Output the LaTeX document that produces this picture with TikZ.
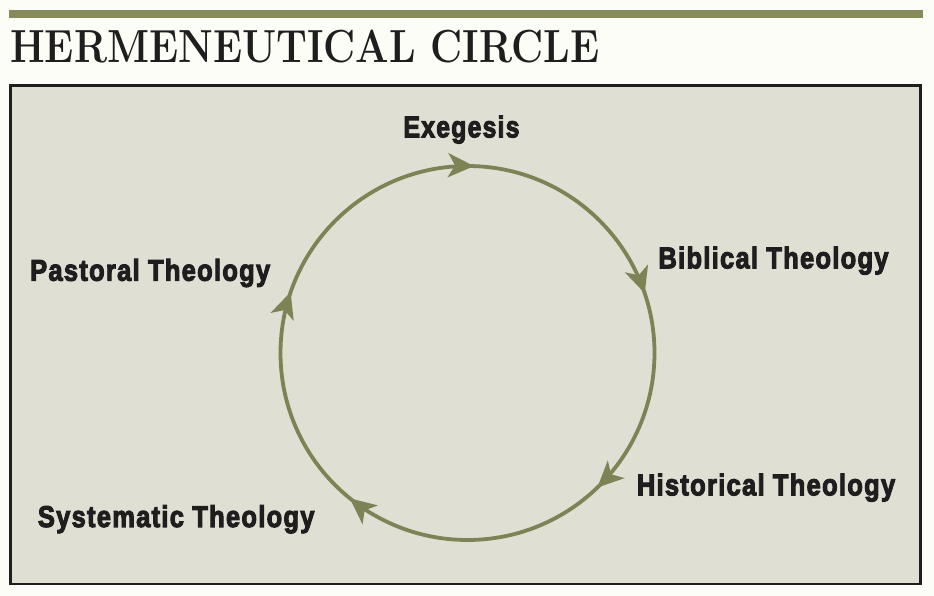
\documentclass[tikz,border=0pt]{standalone}
\usepackage{fontspec}
\usepackage{graphicx}
\usetikzlibrary{arrows.meta,decorations.markings}
\newfontfamily\lblfont{Liberation Sans}[LetterSpace=5]
\newcommand\heavytext[1]{\special{pdf:literal direct 2 Tr 1.1 w}#1\special{pdf:literal direct 0 Tr}}
\definecolor{olive}{HTML}{7D8354}
\definecolor{barolive}{HTML}{878A5B}
\definecolor{panel}{HTML}{DFDFD3}
\definecolor{ink}{HTML}{1F1D1E}
\definecolor{paper}{HTML}{FDFDF8}
\begin{document}
\begin{tikzpicture}[x=1pt,y=1pt,
  lbl/.style={anchor=base west,inner sep=0pt,text=ink,font=\lblfont\bfseries\fontsize{30}{30}\selectfont},
  circ/.style={draw=olive,line width=3.8pt,postaction={decorate},
    decoration={markings,
      mark=at position 0.0056 with {\arrow[olive]{Stealth[length=26pt,width=24pt,inset=7pt]}},
      mark=at position 0.1983 with {\arrow[olive]{Stealth[length=26pt,width=24pt,inset=7pt]}},
      mark=at position 0.3778 with {\arrow[olive]{Stealth[length=26pt,width=24pt,inset=7pt]}},
      mark=at position 0.6083 with {\arrow[olive]{Stealth[length=26pt,width=24pt,inset=7pt]}},
      mark=at position 0.8028 with {\arrow[olive]{Stealth[length=26pt,width=24pt,inset=7pt]}}}}]
\useasboundingbox (0,0) rectangle (934,596);
\fill[paper] (0,0) rectangle (934,596);
% top bar
\fill[barolive] (9,578) rectangle (923,585.5);
% title
\node[anchor=base west,inner sep=0pt,text=ink] (title) at (10,533.3)
  {\resizebox{589pt}{\height}{\fontsize{46.4}{46.4}\selectfont\bfseries HERMENEUTICAL CIRCLE}};
% panel
\draw[draw=ink,fill=panel,line width=2.5pt] (10.5,12) rectangle (920.5,510.5);
% circle
\coordinate (cen) at (467.5,243);
\draw[circ] ([shift={(90:187)}]cen) arc[start angle=90,end angle=-270,radius=187];
% labels
\node[lbl] (exeg) at (403.3,458.7) {\resizebox{116pt}{\height}{\heavytext{Exegesis}}};
\node[lbl] (bibl) at (658.3,327.7) {\resizebox{230pt}{\height}{\heavytext{Biblical Theology}}};
\node[lbl] (hist) at (636.7,100.7) {\resizebox{258.3pt}{\height}{\heavytext{Historical Theology}}};
\node[lbl] (syst) at (37.7,69) {\resizebox{276.6pt}{\height}{\heavytext{Systematic Theology}}};
\node[lbl] (past) at (30,315.3) {\resizebox{240pt}{\height}{\heavytext{Pastoral Theology}}};
\end{tikzpicture}
\end{document}
